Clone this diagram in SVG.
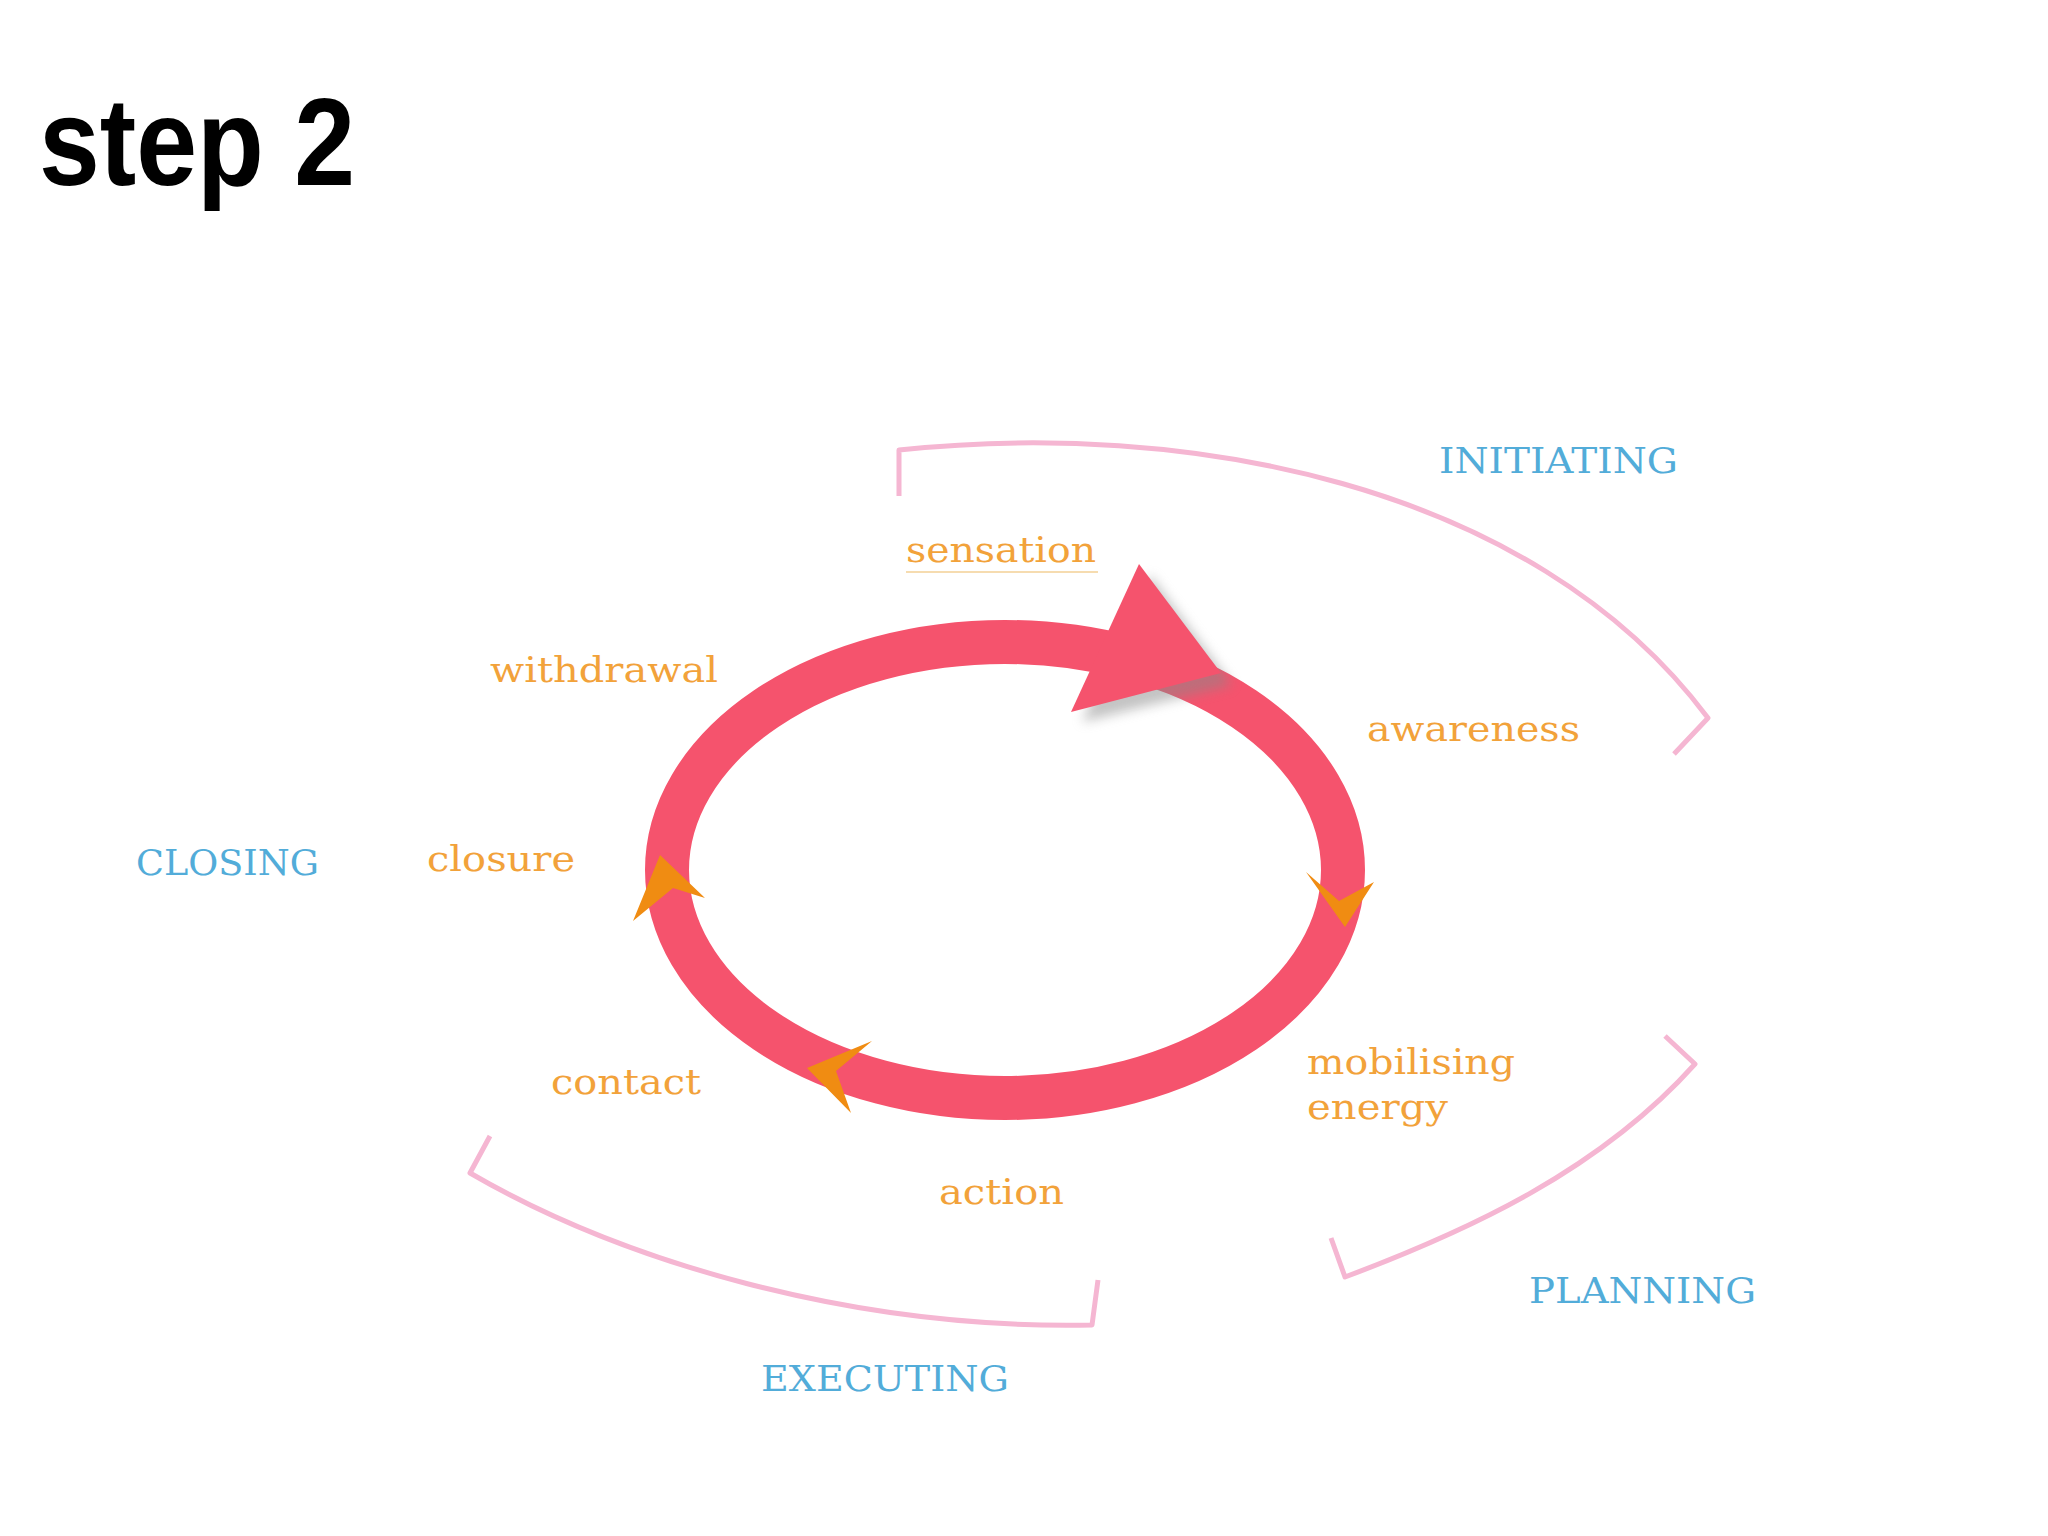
<svg xmlns="http://www.w3.org/2000/svg" width="2048" height="1536" viewBox="0 0 2048 1536">
<defs>
<style>
.lbl{font-family:"DejaVu Serif","Liberation Serif",serif;font-size:36px;fill:#f2a23a}
.ph{font-family:"DejaVu Serif","Liberation Serif",serif;font-size:36px;fill:#52acd9}
.br{fill:none;stroke:#f5b6d2;stroke-width:5;stroke-linejoin:round}
.chev{fill:#f08c12}
</style>
<filter id="sh" x="-30%" y="-30%" width="160%" height="160%"><feGaussianBlur stdDeviation="6"/></filter>
</defs>
<rect width="2048" height="1536" fill="#fff"/>
<text x="39" y="185" font-family="Liberation Sans,Arial,sans-serif" font-weight="bold" font-size="125" fill="#000" textLength="316" lengthAdjust="spacingAndGlyphs">step 2</text>
<g id="connectors">
<path class="br" d="M899,496 L899,450 C1180,420 1530,480 1708,718 L1674,754"/>
<path class="br" d="M1665,1036 L1695,1064 C1600,1170 1470,1230 1345,1277 L1331,1238"/>
<path class="br" d="M490,1136 L470,1173 C620,1260 850,1330 1092,1325 L1098,1280"/>
</g>
<g id="cycle">
<ellipse cx="1005" cy="870" rx="338" ry="228" fill="none" stroke="#f5536d" stroke-width="44"/>
<polygon points="1150,575 1232,685 1082,722" fill="#888" opacity="0.5" filter="url(#sh)"/>
<polygon points="1139,564 1221,673 1071,712" fill="#f5536d"/>
<polygon class="chev" points="1306,872 1339,901 1374,882 1345,927"/>
<polygon class="chev" points="660,855 705,898 673,888 633,921"/>
<polygon class="chev" points="872,1041 836,1071 851,1113 807,1068"/>
</g>
<g id="labels">
<text class="ph" x="1439" y="473" textLength="239" lengthAdjust="spacingAndGlyphs">INITIATING</text>
<text class="lbl" x="906" y="562" textLength="190" lengthAdjust="spacingAndGlyphs">sensation</text>
<line x1="906" y1="572" x2="1098" y2="572" stroke="#f6dcb0" stroke-width="2"/>
<text class="lbl" x="490" y="682" textLength="228" lengthAdjust="spacingAndGlyphs">withdrawal</text>
<text class="lbl" x="1367" y="741" textLength="213" lengthAdjust="spacingAndGlyphs">awareness</text>
<text class="ph" x="136" y="875" textLength="183" lengthAdjust="spacingAndGlyphs">CLOSING</text>
<text class="lbl" x="427" y="871" textLength="148" lengthAdjust="spacingAndGlyphs">closure</text>
<text class="lbl" x="1307" y="1074" textLength="208" lengthAdjust="spacingAndGlyphs">mobilising</text>
<text class="lbl" x="1307" y="1119" textLength="141" lengthAdjust="spacingAndGlyphs">energy</text>
<text class="lbl" x="551" y="1094" textLength="150" lengthAdjust="spacingAndGlyphs">contact</text>
<text class="lbl" x="939" y="1204" textLength="125" lengthAdjust="spacingAndGlyphs">action</text>
<text class="ph" x="1529" y="1303" textLength="227" lengthAdjust="spacingAndGlyphs">PLANNING</text>
<text class="ph" x="761" y="1391" textLength="248" lengthAdjust="spacingAndGlyphs">EXECUTING</text>
</g>
</svg>
